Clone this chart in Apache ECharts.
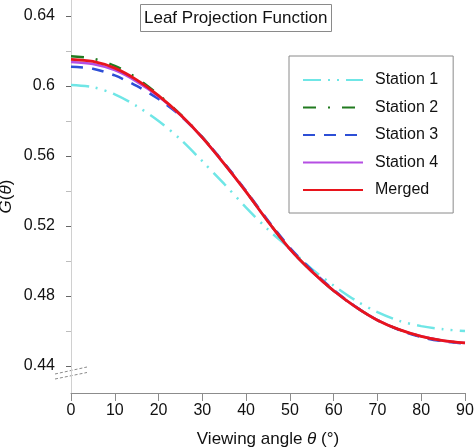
<!DOCTYPE html>
<html>
<head>
<meta charset="utf-8">
<script src="https://cdn.jsdelivr.net/npm/echarts@6/dist/echarts.min.js"></script>
<style>
  html, body { margin: 0; padding: 0; background: #fff; }
  #chart { width: 474px; height: 448px; }
</style>
</head>
<body>
<div id="chart"></div>
<script>
// viewing angle (deg)
const angles = [0, 5, 10, 15, 20, 25, 30, 35, 40, 45, 50, 55, 60, 65, 70, 75, 80, 85, 90];

const station1 = [0.6005, 0.5993, 0.5952, 0.5885, 0.5800, 0.5695, 0.5570, 0.5440, 0.5305, 0.5180,
                  0.5070, 0.4955, 0.4860, 0.4775, 0.4708, 0.4658, 0.4628, 0.4610, 0.4600];
const station2 = [0.6170, 0.6156, 0.6115, 0.6045, 0.5950, 0.5838, 0.5708, 0.5558, 0.5396, 0.5226,
                  0.5068, 0.4941, 0.4830, 0.4738, 0.4662, 0.4608, 0.4569, 0.4544, 0.4531];
const station3 = [0.6110, 0.6098, 0.6060, 0.6000, 0.5925, 0.5830, 0.5706, 0.5560, 0.5400, 0.5232,
                  0.5076, 0.4948, 0.4835, 0.4740, 0.4662, 0.4606, 0.4565, 0.4541, 0.4529];
const station4 = [0.6137, 0.6125, 0.6090, 0.6025, 0.5940, 0.5834, 0.5705, 0.5555, 0.5395, 0.5225,
                  0.5068, 0.4940, 0.4830, 0.4738, 0.4662, 0.4608, 0.4570, 0.4545, 0.4532];
const merged   = [0.6152, 0.6140, 0.6102, 0.6035, 0.5945, 0.5835, 0.5705, 0.5555, 0.5395, 0.5225,
                  0.5068, 0.4940, 0.4830, 0.4738, 0.4662, 0.4608, 0.4570, 0.4545, 0.4532];

const yLabelTicks = [0.44, 0.48, 0.52, 0.56, 0.6, 0.64];
const yMinorTicks = [0.46, 0.50, 0.54, 0.58, 0.62];

const font = '"Liberation Sans", Arial, Helvetica, sans-serif';
const yMin = 0.4246, yMax = 0.6491;

function pairs(vals) {
  return angles.map((a, i) => [a, vals[i]]);
}

function line(name, vals, color, width, dash) {
  return {
    name: name,
    type: 'line',
    data: pairs(vals),
    smooth: 0.3,
    symbol: 'none',
    color: color,
    lineStyle: { color: color, width: width, type: dash || 'solid', cap: 'butt' }
  };
}

const chart = echarts.init(document.getElementById('chart'), null, { renderer: 'canvas' });

chart.setOption({
  animation: false,
  textStyle: { fontFamily: font },
  title: {
    text: 'Leaf Projection Function',
    left: 140,
    top: 4,
    padding: [5, 4, 4, 4],
    borderColor: '#8a8a8a',
    borderWidth: 1,
    textStyle: { fontFamily: font, fontSize: 17, fontWeight: 'normal', color: '#111', lineHeight: 19 }
  },
  legend: {
    orient: 'vertical',
    left: 289,
    top: 56,
    padding: [16, 15, 15, 13],
    itemWidth: 60,
    itemHeight: 14,
    itemGap: 11.5,
    borderColor: '#8a8a8a',
    borderWidth: 1,
    itemStyle: { opacity: 0 },
    textStyle: { fontFamily: font, fontSize: 16, color: '#111', padding: [0, 0, 0, 7] },
    data: ['Station 1', 'Station 2', 'Station 3', 'Station 4', 'Merged']
  },
  grid: { left: 71, right: 9, top: 0, bottom: 55, outerBoundsMode: 'none', containLabel: false },
  xAxis: {
    type: 'value',
    min: 0,
    max: 90,
    interval: 10,
    name: 'Viewing angle {i|θ} (°)',
    nameLocation: 'middle',
    nameGap: 38,
    nameMoveOverlap: false,
    nameTextStyle: {
      fontFamily: font, fontSize: 17, color: '#111',
      rich: { i: { fontFamily: font, fontSize: 17, fontStyle: 'italic', color: '#111' } }
    },
    axisLine: { lineStyle: { color: '#8c8c8c', width: 1 } },
    axisTick: { length: 8, lineStyle: { color: '#8c8c8c' } },
    axisLabel: { fontSize: 16, color: '#111', margin: 10 },
    splitLine: { show: false }
  },
  yAxis: [{
    type: 'value',
    min: yMin,
    max: yMax,
    name: '{i|G}({i|θ})',
    nameLocation: 'middle',
    nameRotate: 90,
    nameGap: 56,
    nameMoveOverlap: false,
    nameTextStyle: {
      fontFamily: font, fontSize: 17, color: '#111',
      rich: { i: { fontFamily: font, fontSize: 17, fontStyle: 'italic', color: '#111' } }
    },
    axisLine: { show: true, lineStyle: { color: '#d0d0d0', width: 1 } },
    axisTick: { show: true, length: 5, customValues: yLabelTicks, lineStyle: { color: '#666' } },
    axisLabel: {
      customValues: yLabelTicks,
      fontSize: 16,
      color: '#111',
      margin: 16,
      formatter: v => String(+(+v).toFixed(2))
    },
    splitLine: { show: false }
  }, {
    type: 'value',
    position: 'left',
    min: yMin,
    max: yMax,
    axisLine: { show: false },
    axisTick: { show: true, length: 5, customValues: yMinorTicks, lineStyle: { color: '#bdbdbd' } },
    axisLabel: { show: false },
    splitLine: { show: false }
  }],
  graphic: [
    // broken-axis marks on the y axis
    { type: 'line', shape: { x1: 55, y1: 374, x2: 87, y2: 367 },
      style: { stroke: '#8a8a8a', lineWidth: 1, lineDash: [3, 2] } },
    { type: 'line', shape: { x1: 55, y1: 379, x2: 87, y2: 372.5 },
      style: { stroke: '#8a8a8a', lineWidth: 1, lineDash: [3, 2] } }
  ],
  series: [
    line('Station 1', station1, '#6fe6e6', 2.5, [18, 7, 2, 7, 2, 7]),
    line('Station 2', station2, '#217a1f', 2.5, [13, 12, 2, 12]),
    line('Station 3', station3, '#2d4fd6', 2.5, [12, 9]),
    line('Station 4', station4, '#b54fe3', 2.5),
    line('Merged', merged, '#e8141c', 2.8)
  ]
});
</script>
</body>
</html>
